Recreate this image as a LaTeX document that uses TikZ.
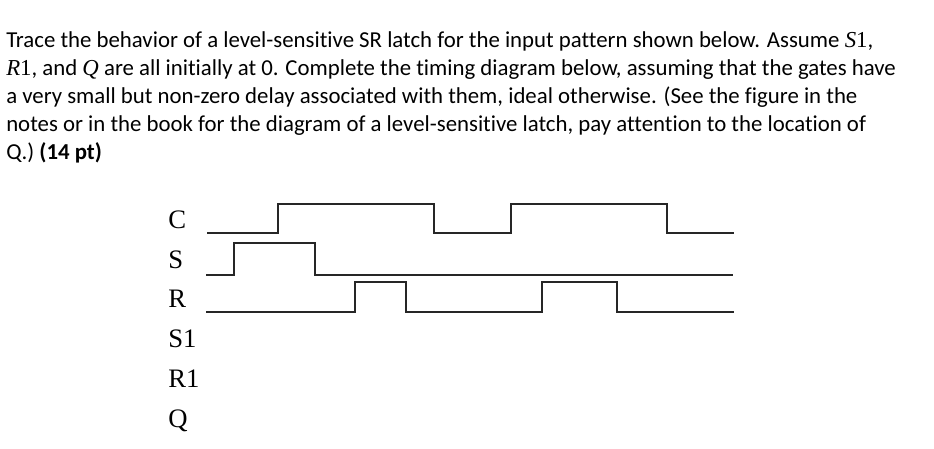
\documentclass[tikz,border=0pt]{standalone}
\usepackage{fontspec}
\setmainfont{Carlito}[Ligatures=CommonOff]
\newfontfamily\timesfont{Liberation Serif}
\usetikzlibrary{positioning}

\newcommand{\sig}[1]{{\timesfont\textit{#1}}}

\tikzset{
  taskline/.style={anchor=base west, inner sep=0pt, font=\fontsize{17.1}{21}\selectfont},
  siglabel/.style={anchor=base west, inner sep=0pt, font=\timesfont\fontsize{20}{24}\selectfont},
  wave/.style={line width=1.3pt, black!85}
}

\begin{document}
\begin{tikzpicture}[x=0.75pt, y=-0.75pt]

  \useasboundingbox (0,0) rectangle (934,449);

  % Question text
  \node[taskline] (line1) at (6,48)  {Trace the behavior of a level-sensitive SR latch for the input pattern shown below. Assume \sig{S}{\timesfont 1},};
  \node[taskline] (line2) at (6,76)  {\sig{R}{\timesfont 1}, and \sig{Q} are all initially at 0. Complete the timing diagram below, assuming that the gates have};
  \node[taskline] (line3) at (6,104) {a very small but non-zero delay associated with them, ideal otherwise. (See the figure in the};
  \node[taskline] (line4) at (6,132) {notes or in the book for the diagram of a level-sensitive latch, pay attention to the location of};
  \node[taskline] (line5) at (6,160) {Q.) \textbf{(14 pt)}};

  % Signal names
  \node[siglabel] (c)  at (168,228) {C};
  \node[siglabel] (s)  at (168,268) {S};
  \node[siglabel] (r)  at (168,307) {R};
  \node[siglabel] (s1) at (168,347) {S1};
  \node[siglabel] (r1) at (168,387) {R1};
  \node[siglabel] (q)  at (168,427) {Q};

  % C: clock
  \draw[wave] (207,233) -- (278,233) -- (278,204) -- (434,204) -- (434,233)
    -- (511,233) -- (511,204) -- (667,204) -- (667,233) -- (734,233);

  % S: set input
  \draw[wave] (206,275) -- (234,275) -- (234,243) -- (315,243) -- (315,275) -- (733,275);

  % R: reset input
  \draw[wave] (206,312) -- (355,312) -- (355,282) -- (406,282) -- (406,312)
    -- (542,312) -- (542,282) -- (617,282) -- (617,312) -- (734,312);

\end{tikzpicture}
\end{document}
